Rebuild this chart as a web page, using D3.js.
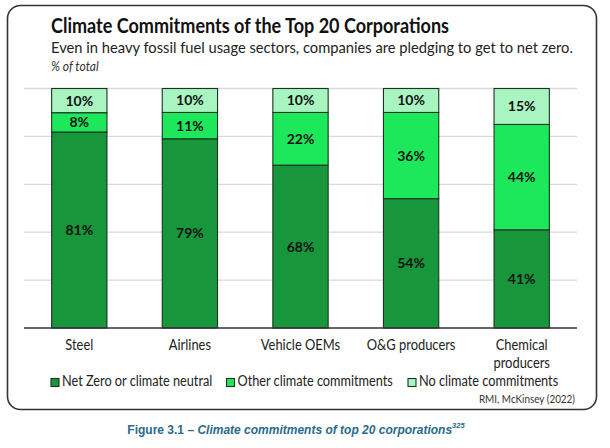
<!DOCTYPE html>
<html>
<head>
<meta charset="utf-8">
<script src="https://cdn.jsdelivr.net/npm/d3@7"></script>
<style>
  html, body { margin: 0; padding: 0; background: #fff; }
  svg { display: block; }
</style>
</head>
<body>
<script>
const categories = ["Steel", "Airlines", "Vehicle OEMs", "O&G producers", "Chemical producers"];
const categoryLines = [["Steel"], ["Airlines"], ["Vehicle OEMs"], ["O&G producers"], ["Chemical", "producers"]];
const seriesNames = ["Net Zero or climate neutral", "Other climate commitments", "No climate commitments"];
const netZero = [81, 79, 68, 54, 41];
const otherCommit = [8, 11, 22, 36, 44];
const noCommit = [10, 10, 10, 10, 15];
const yTicks = [0, 20, 40, 60, 80, 100];
const colors = ["#17963c", "#1de85c", "#a9f5c2"];

const W = 610, H = 448;
const svg = d3.select("body").append("svg").attr("width", W).attr("height", H);
const font = "Lato, 'Open Sans', sans-serif";
function narrow(sel, k) {
  sel.each(function () {
    const w = this.getComputedTextLength();
    d3.select(this).attr("textLength", w * k).attr("lengthAdjust", "spacingAndGlyphs");
  });
  return sel;
}
function fitSize(sel, target) {
  sel.each(function () {
    const fs = parseFloat(d3.select(this).attr("font-size"));
    const w = this.getComputedTextLength();
    d3.select(this).attr("font-size", (fs * target / w).toFixed(2));
  });
  return sel;
}

// frame
svg.append("rect").attr("x", 7.5).attr("y", 5.5).attr("width", 589).attr("height", 404)
  .attr("rx", 13).attr("fill", "#fff").attr("stroke", "#333").attr("stroke-width", 1.6);

svg.append("text").attr("x", 51).attr("y", 32.5).text("Climate Commitments of the Top 20 Corporations")
  .attr("font-family", font).attr("font-weight", 700).attr("font-size", 20).attr("fill", "#111")
  .attr("textLength", 398).attr("lengthAdjust", "spacingAndGlyphs");
fitSize(svg.append("text").attr("x", 51).attr("y", 53).text("Even in heavy fossil fuel usage sectors, companies are pledging to get to net zero.")
  .attr("font-family", font).attr("font-size", 16).attr("fill", "#222"), 522);
narrow(svg.append("text").attr("x", 51).attr("y", 71).text("% of total")
  .attr("font-family", font).attr("font-style", "italic").attr("font-size", 14).attr("fill", "#333"), 0.86);

const x = d3.scaleBand().domain(categories).range([24, 577]).paddingInner(0.5).paddingOuter(0.25);
const y = d3.scaleLinear().domain([0, 100]).range([328, 88.5]);

// gridlines
svg.append("g").selectAll("line").data(yTicks.filter(t => t > 0)).join("line")
  .attr("x1", 24).attr("x2", 577).attr("y1", d => y(d)).attr("y2", d => y(d))
  .attr("stroke", "#d9d9d9").attr("stroke-width", 1.3);

// stacked, normalized to 100%
const stackData = categories.map((c, i) => {
  const raw = [netZero[i], otherCommit[i], noCommit[i]];
  const tot = d3.sum(raw);
  return { cat: c, s0: raw[0] / tot * 100, s1: raw[1] / tot * 100, s2: raw[2] / tot * 100, raw };
});
const series = d3.stack().keys(["s0", "s1", "s2"])(stackData);

const g = svg.append("g");
series.forEach((s, si) => {
  g.append("g").selectAll("rect").data(s).join("rect")
    .attr("x", d => x(d.data.cat)).attr("width", x.bandwidth())
    .attr("y", d => y(d[1])).attr("height", d => y(d[0]) - y(d[1]))
    .attr("fill", colors[si]).attr("stroke", "#1b3320").attr("stroke-width", 1.1);
});
series.forEach((s, si) => {
  g.append("g").selectAll("text").data(s).join("text")
    .attr("x", d => x(d.data.cat) + x.bandwidth() / 2)
    .attr("y", d => (y(d[0]) + y(d[1])) / 2 + 5)
    .attr("text-anchor", "middle")
    .attr("font-family", font).attr("font-weight", 700).attr("font-size", 14).attr("fill", "#111")
    .text(d => d.data.raw[si] + "%");
});

// axis line
svg.append("line").attr("x1", 24).attr("x2", 577).attr("y1", y(0)).attr("y2", y(0))
  .attr("stroke", "#333").attr("stroke-width", 1.4);

// category labels
const cl = svg.append("g");
categories.forEach((c, i) => {
  categoryLines[i].forEach((ln, j) => {
    narrow(cl.append("text").attr("text-anchor", "middle")
      .attr("x", x(c) + x.bandwidth() / 2).attr("y", 350 + j * 18).text(ln)
      .attr("font-family", font).attr("font-size", 15).attr("fill", "#222"), 0.86);
  });
});

// legend
const legX = [51, 226.5, 408];
const leg = svg.append("g");
seriesNames.forEach((n, i) => {
  leg.append("rect").attr("x", legX[i]).attr("y", 378.5).attr("width", 8).attr("height", 8)
    .attr("fill", colors[i]).attr("stroke", "#1b3320").attr("stroke-width", 1.1);
  narrow(leg.append("text").attr("x", legX[i] + 11).attr("y", 386).text(n)
    .attr("font-family", font).attr("font-size", 15.5).attr("fill", "#222"), 0.82);
});

narrow(svg.append("text").attr("x", 575).attr("y", 402.5).attr("text-anchor", "end").text("RMI, McKinsey (2022)")
  .attr("font-family", font).attr("font-size", 11.5).attr("fill", "#333"), 0.86);

// caption
const cap = svg.append("text").attr("x", 296).attr("y", 434).attr("text-anchor", "middle")
  .attr("font-family", "'Liberation Sans', Arial, sans-serif").attr("font-weight", 700).attr("font-size", 12).attr("fill", "#2a6a8c");
cap.append("tspan").text("Figure 3.1 – ");
cap.append("tspan").attr("font-style", "italic").text("Climate commitments of top 20 corporations");
cap.append("tspan").attr("font-style", "italic").attr("font-size", 7.5).attr("dy", -6).text("325");
</script>
</body>
</html>
